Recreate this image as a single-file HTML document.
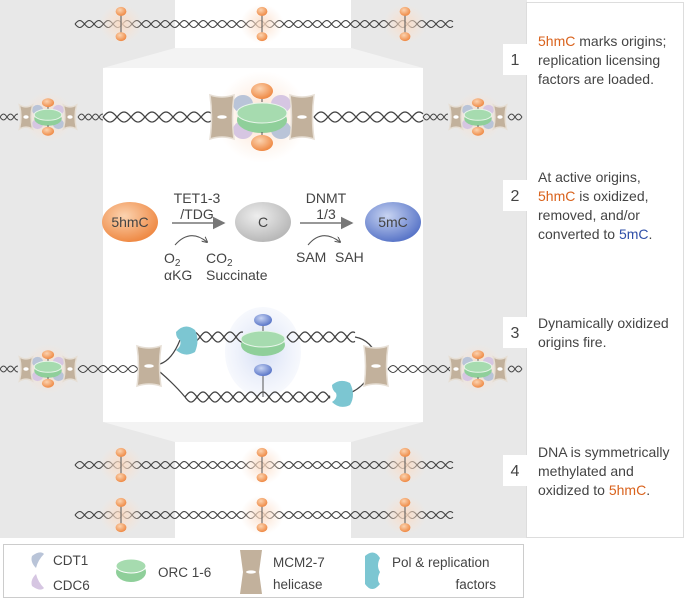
<!DOCTYPE html>
<html><head><meta charset="utf-8"><style>
html,body{margin:0;padding:0;background:#fff;}
body{width:685px;height:600px;position:relative;overflow:hidden;font-family:"Liberation Sans",sans-serif;}
svg{position:absolute;left:0;top:0;}
.t{font-family:"Liberation Sans",sans-serif;fill:#444;}
</style></head><body>
<svg id="s" width="685" height="600" viewBox="0 0 685 600" xmlns="http://www.w3.org/2000/svg">
<defs>
<radialGradient id="og" cx="40%" cy="35%" r="65%"><stop offset="0" stop-color="#fbd3b0"/><stop offset="1" stop-color="#ef8a45"/></radialGradient>
<radialGradient id="gg" cx="40%" cy="35%" r="65%"><stop offset="0" stop-color="#eee"/><stop offset="1" stop-color="#b8b8b8"/></radialGradient>
<radialGradient id="bg" cx="40%" cy="35%" r="65%"><stop offset="0" stop-color="#c8d4f2"/><stop offset="1" stop-color="#5a76c8"/></radialGradient>
<radialGradient id="glow" cx="50%" cy="50%" r="50%"><stop offset="0" stop-color="#fbd9c0" stop-opacity="0.9"/><stop offset="1" stop-color="#fbe3d2" stop-opacity="0"/></radialGradient>
<radialGradient id="bglow" cx="50%" cy="50%" r="50%"><stop offset="0" stop-color="#d5def5"/><stop offset="1" stop-color="#e3e9f8" stop-opacity="0.3"/></radialGradient>
<marker id="ah" markerWidth="8" markerHeight="8" refX="7" refY="4" orient="auto"><path d="M0,0 L8,4 L0,8 Z" fill="#777"/></marker>
<marker id="ah2" markerWidth="6" markerHeight="6" refX="5" refY="3" orient="auto"><path d="M0,0 L6,3 L0,6" fill="none" stroke="#555"/></marker>
</defs>
<rect x="0" y="0" width="527" height="538" fill="#e8e8e8"/>
<rect x="175" y="0" width="176" height="48" fill="#fff"/>
<polygon points="175,48 351,48 423,68 103,68" fill="#f3f3f3"/>
<rect x="103" y="68" width="320" height="354" fill="#fff"/>
<polygon points="103,422 423,422 351,442 175,442" fill="#f3f3f3"/>
<rect x="175" y="442" width="176" height="96" fill="#fff"/>
<rect x="526.5" y="2.5" width="157" height="535" fill="#fff" stroke="#ddd"/>
<rect x="503" y="44" width="24" height="31" fill="#fff"/>
<rect x="503" y="180" width="24" height="31" fill="#fff"/>
<rect x="503" y="317" width="24" height="31" fill="#fff"/>
<rect x="503" y="455" width="24" height="31" fill="#fff"/>
<g id="dyn"></g>
<ellipse cx="130" cy="222" rx="28" ry="20" fill="url(#og)"/>
<ellipse cx="263" cy="222" rx="28" ry="20" fill="url(#gg)"/>
<ellipse cx="393" cy="222" rx="28" ry="20" fill="url(#bg)"/>
<text class="t" x="130" y="227" font-size="14" text-anchor="middle">5hmC</text>
<text class="t" x="263" y="227" font-size="14" text-anchor="middle">C</text>
<text class="t" x="393" y="227" font-size="14" text-anchor="middle">5mC</text>
<line x1="172" y1="223" x2="224" y2="223" stroke="#777" stroke-width="1.6" marker-end="url(#ah)"/>
<line x1="300" y1="223" x2="352" y2="223" stroke="#777" stroke-width="1.6" marker-end="url(#ah)"/>
<path d="M175,245 Q190,228 207,242" fill="none" stroke="#555" marker-end="url(#ah2)"/>
<path d="M308,245 Q322,228 340,242" fill="none" stroke="#555" marker-end="url(#ah2)"/>
<text class="t" x="197" y="203" font-size="14" text-anchor="middle">TET1-3</text>
<text class="t" x="197" y="219" font-size="14" text-anchor="middle">/TDG</text>
<text class="t" x="326" y="203" font-size="14" text-anchor="middle">DNMT</text>
<text class="t" x="326" y="219" font-size="14" text-anchor="middle">1/3</text>
<text class="t" x="164" y="263" font-size="14">O<tspan font-size="10" dy="3">2</tspan></text>
<text class="t" x="164" y="280" font-size="14">αKG</text>
<text class="t" x="206" y="263" font-size="14">CO<tspan font-size="10" dy="3">2</tspan></text>
<text class="t" x="206" y="280" font-size="14">Succinate</text>
<text class="t" x="296" y="262" font-size="14">SAM</text>
<text class="t" x="335" y="262" font-size="14">SAH</text>
<g font-size="14" class="t">
<text class="t" x="515" y="65" font-size="16" text-anchor="middle">1</text>
<text class="t" x="538" y="46"><tspan fill="#d9621c">5hmC</tspan> marks origins;</text>
<text class="t" x="538" y="65">replication licensing</text>
<text class="t" x="538" y="84">factors are loaded.</text>
<text class="t" x="515" y="201" font-size="16" text-anchor="middle">2</text>
<text class="t" x="538" y="182">At active origins,</text>
<text class="t" x="538" y="201"><tspan fill="#d9621c">5hmC</tspan> is oxidized,</text>
<text class="t" x="538" y="220">removed, and/or</text>
<text class="t" x="538" y="239">converted to <tspan fill="#2f4fa8">5mC</tspan>.</text>
<text class="t" x="515" y="338" font-size="16" text-anchor="middle">3</text>
<text class="t" x="538" y="328">Dynamically oxidized</text>
<text class="t" x="538" y="347">origins fire.</text>
<text class="t" x="515" y="476" font-size="16" text-anchor="middle">4</text>
<text class="t" x="538" y="457">DNA is symmetrically</text>
<text class="t" x="538" y="476">methylated and</text>
<text class="t" x="538" y="495">oxidized to <tspan fill="#d9621c">5hmC</tspan>.</text>
</g>
<rect x="3.5" y="544.5" width="520" height="53" fill="#fff" stroke="#ccc"/>
<path d="M32,556 Q40,550 44,554 Q38,560 36,568 Q30,562 32,556Z" fill="#b9c4d8"/>
<path d="M32,586 Q40,592 44,588 Q38,582 36,574 Q30,580 32,586Z" fill="#d6c6e2"/>
<text class="t" x="53" y="565" font-size="13.5">CDT1</text>
<text class="t" x="53" y="590" font-size="13.5">CDC6</text>
<ellipse cx="131" cy="572" rx="15" ry="10" fill="#8fcf9a"/>
<ellipse cx="131" cy="566" rx="15" ry="7" fill="#a6dbaf" stroke="#fff" stroke-width="1"/>
<text class="t" x="158" y="577" font-size="13.5">ORC 1-6</text>
<path d="M240,550 L262,550 L259,572 L262,594 L240,594 L243,572 Z" fill="#c2b19c"/>
<ellipse cx="251" cy="572" rx="5" ry="1.6" fill="#fff"/>
<text class="t" x="273" y="567" font-size="13.5">MCM2-7</text>
<text class="t" x="273" y="589" font-size="13.5">helicase</text>
<path d="M365,556 Q374,548 380,558 Q376,566 380,572 Q376,580 380,584 Q372,594 365,584 Z" fill="#7cc6d2"/>
<text class="t" x="392" y="567" font-size="13.5">Pol &amp; replication</text>
<text class="t" x="496" y="589" font-size="13.5" text-anchor="end">factors</text>
</svg>
<script>
var g=document.getElementById('dyn');var NS='http://www.w3.org/2000/svg';
function el(t,a){var e=document.createElementNS(NS,t);for(var k in a)e.setAttribute(k,a[k]);g.appendChild(e);return e;}
function helix(x1,x2,y,per,amp,sw){for(var s=0;s<2;s++){var d='';for(var x=x1;x<=x2;x+=1){var yy=y+amp*Math.sin((x-x1)/per*2*Math.PI+s*Math.PI);d+=(x==x1?'M':'L')+x+','+yy.toFixed(2);}el('path',{d:d,fill:'none',stroke:'#444','stroke-width':sw||1.2});}}
function mark(x,y,s,c){s=s||1;c=c||'url(#og)';el('ellipse',{cx:x,cy:y,rx:24*s,ry:22*s,fill:'url(#glow)'});el('line',{x1:x,y1:y-12*s,x2:x,y2:y+12*s,stroke:'#555'});el('ellipse',{cx:x,cy:y-14*s,rx:6*s,ry:5*s,fill:c});el('ellipse',{cx:x,cy:y+14*s,rx:6*s,ry:5*s,fill:c});}
function mcm(x,y,w,h){el('path',{d:'M'+(x-w/2)+','+(y-h/2)+' Q'+x+','+(y-h/2+4)+' '+(x+w/2)+','+(y-h/2)+' Q'+(x+w/2-3)+','+y+' '+(x+w/2)+','+(y+h/2)+' Q'+x+','+(y+h/2-4)+' '+(x-w/2)+','+(y+h/2)+' Q'+(x-w/2+3)+','+y+' '+(x-w/2)+','+(y-h/2)+'Z',fill:'#c2b19c',stroke:'#e6ded4','stroke-width':1.5});el('ellipse',{cx:x,cy:y,rx:w*0.2,ry:1.8,fill:'#fff'});}
function complex(x,y,s){el('circle',{cx:x,cy:y,r:46*s,fill:'url(#glow)'});
el('ellipse',{cx:x-19*s,cy:y-13*s,rx:10*s,ry:9*s,fill:'#b9c4d8'});el('ellipse',{cx:x+19*s,cy:y+13*s,rx:10*s,ry:9*s,fill:'#b9c4d8'});
el('ellipse',{cx:x+19*s,cy:y-13*s,rx:10*s,ry:9*s,fill:'#d6c6e2'});el('ellipse',{cx:x-19*s,cy:y+13*s,rx:10*s,ry:9*s,fill:'#d6c6e2'});
el('ellipse',{cx:x,cy:y+3*s,rx:25*s,ry:13*s,fill:'#8fcf9a'});el('ellipse',{cx:x,cy:y-4*s,rx:25*s,ry:10*s,fill:'#a6dbaf',stroke:'#e8f5ea'});
el('line',{x1:x,y1:y-15*s,x2:x,y2:y-20*s,stroke:'#555'});el('line',{x1:x,y1:y+15*s,x2:x,y2:y+20*s,stroke:'#555'});
el('ellipse',{cx:x,cy:y-26*s,rx:11*s,ry:8*s,fill:'url(#og)'});el('ellipse',{cx:x,cy:y+26*s,rx:11*s,ry:8*s,fill:'url(#og)'});
mcm(x-40*s,y,24*s,44*s);mcm(x+40*s,y,24*s,44*s);}
helix(75,453,24,19,3.5,1.1);[121,262,405].forEach(function(x){mark(x,24,0.9);});
helix(0,18,117,14,3,1);helix(78,103,117,14,3,1);helix(103,212,117,28,5,1.3);helix(314,423,117,28,5,1.3);helix(423,448,117,14,3,1);helix(508,522,117,14,3,1);
complex(262,117,1);complex(48,117,0.55);complex(478,117,0.55);
helix(0,18,369,14,3,1);helix(78,138,369,20,3.5,1);helix(388,450,369,20,3.5,1);helix(508,522,369,14,3,1);
complex(48,369,0.55);complex(478,369,0.55);
el('ellipse',{cx:263,cy:352,rx:38,ry:45,fill:'url(#bglow)'});
helix(188,243,337,24,5,1.3);helix(287,355,337,24,5,1.3);
el('path',{d:'M160,364 Q172,360 180,340',fill:'none',stroke:'#444','stroke-width':1.2});
el('path',{d:'M355,337 Q372,340 378,360',fill:'none',stroke:'#444','stroke-width':1.2});
el('path',{d:'M160,372 Q175,385 185,397',fill:'none',stroke:'#444','stroke-width':1.2});
helix(185,330,397,24,5,1.3);
el('path',{d:'M345,395 Q360,390 368,378',fill:'none',stroke:'#444','stroke-width':1.2});
el('ellipse',{cx:263,cy:345,rx:22,ry:11,fill:'#8fcf9a'});el('ellipse',{cx:263,cy:339,rx:22,ry:8,fill:'#a6dbaf',stroke:'#e8f5ea'});
el('line',{x1:263,y1:331,x2:263,y2:325,stroke:'#555'});el('ellipse',{cx:263,cy:320,rx:9,ry:6,fill:'url(#bg)'});
el('line',{x1:263,y1:375,x2:263,y2:397,stroke:'#555'});el('ellipse',{cx:263,cy:370,rx:9,ry:6,fill:'url(#bg)'});
mcm(149,366,24,40);mcm(376,366,24,40);
el('path',{d:'M176,332 Q185,322 195,330 Q200,340 195,352 Q185,358 176,350 Q182,346 180,340 Q176,338 176,332Z',fill:'#7cc6d2'});
el('path',{d:'M332,385 Q340,378 350,383 Q356,395 350,405 Q340,410 332,402 Q338,398 336,393 Q332,390 332,385Z',fill:'#7cc6d2'});
[465,515].forEach(function(y){helix(75,453,y,19,3.5,1.1);[121,262,405].forEach(function(x){mark(x,y,0.9);});});
</script>
</body></html>
